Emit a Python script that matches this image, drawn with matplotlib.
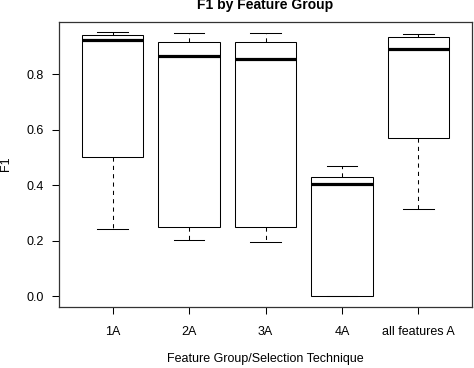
import matplotlib
matplotlib.use("Agg")
import matplotlib.pyplot as plt

plt.rcParams['font.family'] = ['Liberation Sans', 'DejaVu Sans']

# Box statistics
groups = ["1A", "2A", "3A", "4A", "all features A"]
whisker_low = [0.243, 0.204, 0.195, 0.0, 0.315]
q1 = [0.504, 0.249, 0.249, 0.002, 0.572]
median = [0.923, 0.866, 0.857, 0.406, 0.892]
q3 = [0.942, 0.918, 0.918, 0.432, 0.936]
whisker_high = [0.953, 0.948, 0.948, 0.471, 0.946]

stats = [
    dict(label=g, whislo=lo, q1=a, med=m, q3=b, whishi=hi)
    for g, lo, a, m, b, hi in zip(groups, whisker_low, q1, median, q3, whisker_high)
]

fig = plt.figure(figsize=(4.74, 3.68), dpi=100)
ax = fig.add_axes([59 / 474, 61 / 368, 413 / 474, 285 / 368])

line = dict(color="black", linewidth=0.75)
ax.bxp(
    stats,
    positions=range(1, len(groups) + 1),
    widths=0.8,
    capwidths=0.4,
    showfliers=False,
    patch_artist=True,
    boxprops=dict(facecolor="white", edgecolor="black", linewidth=0.75),
    medianprops=dict(color="black", linewidth=2.3, solid_capstyle="butt"),
    whiskerprops=dict(color="black", linewidth=0.75, linestyle=(0, (4, 4))),
    capprops=line,
)

ax.set_xlim(0.3, 5.7)
ax.set_ylim(-0.038, 0.989)
ax.set_yticks([0.0, 0.2, 0.4, 0.6, 0.8])
ax.set_yticklabels(["0.0", "0.2", "0.4", "0.6", "0.8"])
ax.tick_params(axis="y", length=5, width=0.75, pad=6, labelsize=9)
ax.tick_params(axis="x", length=5, width=0.75, pad=9, labelsize=9)
for s in ax.spines.values():
    s.set_linewidth(0.9)
    s.set_color("#333333")

ax.set_title("F1 by Feature Group", fontsize=10, fontweight="bold", pad=9)
ax.set_xlabel("Feature Group/Selection Technique", fontsize=9)
ax.xaxis.set_label_coords(0.5, -0.163)
ax.set_ylabel("F1", fontsize=9, va="center")
ax.yaxis.set_label_coords(-0.128, (307 - 164) / 285)

fig.savefig("out.png", dpi=100)
